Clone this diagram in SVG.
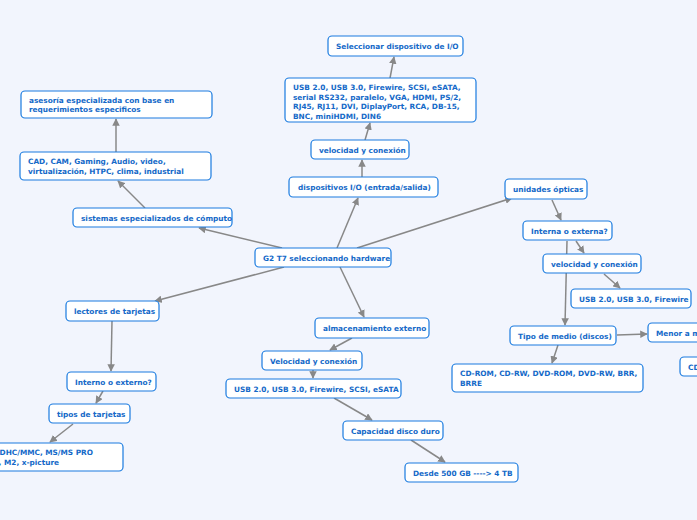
<svg xmlns="http://www.w3.org/2000/svg" width="697" height="520" viewBox="0 0 697 520">
<style>
.n rect{fill:#fff;stroke:#1a7be0;stroke-width:1.2}
.n text{font-family:"DejaVu Sans",Verdana,sans-serif;font-weight:bold;font-size:7.35px;fill:#1469c8}
.e line{stroke:#888;stroke-width:1.5;marker-end:url(#a)}
</style>
<defs><marker id="a" viewBox="0 0 10 10" refX="9" refY="5" markerWidth="5" markerHeight="5" orient="auto"><path d="M0,0L10,5L0,10z" fill="#888"/></marker></defs>
<rect width="697" height="520" fill="#f2f5fd"/>
<g class="e">
<line x1="390" y1="78" x2="394" y2="57"/>
<line x1="365" y1="140" x2="370" y2="123"/>
<line x1="362" y1="177" x2="362" y2="160"/>
<line x1="337" y1="248" x2="358" y2="198"/>
<line x1="282" y1="248" x2="199" y2="228"/>
<line x1="145" y1="208" x2="118" y2="181"/>
<line x1="116" y1="152" x2="116" y2="119"/>
<line x1="357" y1="248" x2="512" y2="198"/>
<line x1="552" y1="200" x2="561" y2="220"/>
<line x1="576" y1="241" x2="584" y2="253"/>
<line x1="604" y1="274" x2="620" y2="288"/>
<line x1="567" y1="241" x2="565" y2="325"/>
<line x1="617" y1="335" x2="647" y2="334"/>
<line x1="558" y1="345" x2="552" y2="363"/>
<line x1="284" y1="267" x2="155" y2="301"/>
<line x1="112" y1="321" x2="111" y2="371"/>
<line x1="103" y1="391" x2="96" y2="403"/>
<line x1="73" y1="424" x2="50" y2="442"/>
<line x1="340" y1="267" x2="364" y2="317"/>
<line x1="352" y1="338" x2="330" y2="350"/>
<line x1="313" y1="370" x2="313" y2="378"/>
<line x1="334" y1="398" x2="372" y2="420"/>
<line x1="411" y1="440" x2="445" y2="462"/>
</g>
<g id="n1" class="n"><rect x="328" y="36" width="135" height="20" rx="4"/><text x="336" y="49">Seleccionar dispositivo de I/O</text></g>
<g id="n2" class="n"><rect x="285" y="78" width="191" height="44" rx="4"/><text x="293" y="90">USB 2.0, USB 3.0, Firewire, SCSI, eSATA,</text><text x="293" y="99.5">serial RS232, paralelo, VGA, HDMI, PS/2,</text><text x="293" y="109">RJ45, RJ11, DVI, DiplayPort, RCA, DB-15,</text><text x="293" y="118.5">BNC, miniHDMI, DIN6</text></g>
<g id="n3" class="n"><rect x="311" y="140" width="98" height="19" rx="4"/><text x="319" y="152.5">velocidad y conexión</text></g>
<g id="n4" class="n"><rect x="289" y="177" width="149" height="20" rx="4"/><text x="298" y="190">dispositivos I/O (entrada/salida)</text></g>
<g id="n5" class="n"><rect x="255" y="248" width="136" height="19" rx="4"/><text x="263" y="260.5">G2 T7 seleccionando hardware</text></g>
<g id="n6" class="n"><rect x="21" y="91" width="191" height="27" rx="4"/><text x="29" y="103">asesoría especializada con base en</text><text x="29" y="112">requerimientos especificos</text></g>
<g id="n7" class="n"><rect x="20" y="152" width="191" height="28" rx="4"/><text x="28" y="164">CAD, CAM, Gaming, Audio, video,</text><text x="28" y="173.5">virtualización, HTPC, clima, industrial</text></g>
<g id="n8" class="n"><rect x="73" y="208" width="159" height="19" rx="4"/><text x="81" y="220.5">sistemas especializados de cómputo</text></g>
<g id="n9" class="n"><rect x="505" y="179" width="82" height="20" rx="4"/><text x="513" y="192">unidades ópticas</text></g>
<g id="n10" class="n"><rect x="523" y="221" width="89" height="19" rx="4"/><text x="531" y="233.5">Interna o externa?</text></g>
<g id="n11" class="n"><rect x="543" y="254" width="98" height="19" rx="4"/><text x="551" y="266.5">velocidad y conexión</text></g>
<g id="n12" class="n"><rect x="571" y="289" width="120" height="19" rx="4"/><text x="579" y="301.5">USB 2.0, USB 3.0, Firewire</text></g>
<g id="n13" class="n"><rect x="510" y="326" width="106" height="19" rx="4"/><text x="518" y="338.5">Tipo de medio (discos)</text></g>
<g id="n14" class="n"><rect x="648" y="323" width="70" height="19" rx="4"/><text x="656" y="335.5">Menor a m</text></g>
<g id="n15" class="n"><rect x="680" y="357" width="30" height="19" rx="4"/><text x="688" y="369.5">CD</text></g>
<g id="n16" class="n"><rect x="452" y="364" width="191" height="28" rx="4"/><text x="460" y="376">CD-ROM, CD-RW, DVD-ROM, DVD-RW, BRR,</text><text x="460" y="385.5">BRRE</text></g>
<g id="n17" class="n"><rect x="66" y="301" width="93" height="20" rx="4"/><text x="74" y="314">lectores de tarjetas</text></g>
<g id="n18" class="n"><rect x="315" y="318" width="114" height="20" rx="4"/><text x="323" y="331">almacenamiento externo</text></g>
<g id="n19" class="n"><rect x="262" y="351" width="100" height="19" rx="4"/><text x="270" y="363.5">Velocidad y conexión</text></g>
<g id="n20" class="n"><rect x="226" y="379" width="175" height="19" rx="4"/><text x="234" y="391.5">USB 2.0, USB 3.0, Firewire, SCSI, eSATA</text></g>
<g id="n21" class="n"><rect x="343" y="421" width="100" height="19" rx="4"/><text x="351" y="433.5">Capacidad disco duro</text></g>
<g id="n22" class="n"><rect x="405" y="463" width="113" height="19" rx="4"/><text x="413" y="475.5">Desde 500 GB ----&gt; 4 TB</text></g>
<g id="n23" class="n"><rect x="67" y="372" width="89" height="19" rx="4"/><text x="75" y="384.5">Interno o externo?</text></g>
<g id="n24" class="n"><rect x="49" y="404" width="81" height="19" rx="4"/><text x="57" y="416.5">tipos de tarjetas</text></g>
<g id="n25" class="n"><rect x="-70" y="443" width="193" height="28" rx="4"/><text x="93" y="455" text-anchor="end">SD/SDHC/MMC, MS/MS PRO</text><text x="59" y="464.5" text-anchor="end">CF I/II, M2, x-picture</text></g>
</svg>
